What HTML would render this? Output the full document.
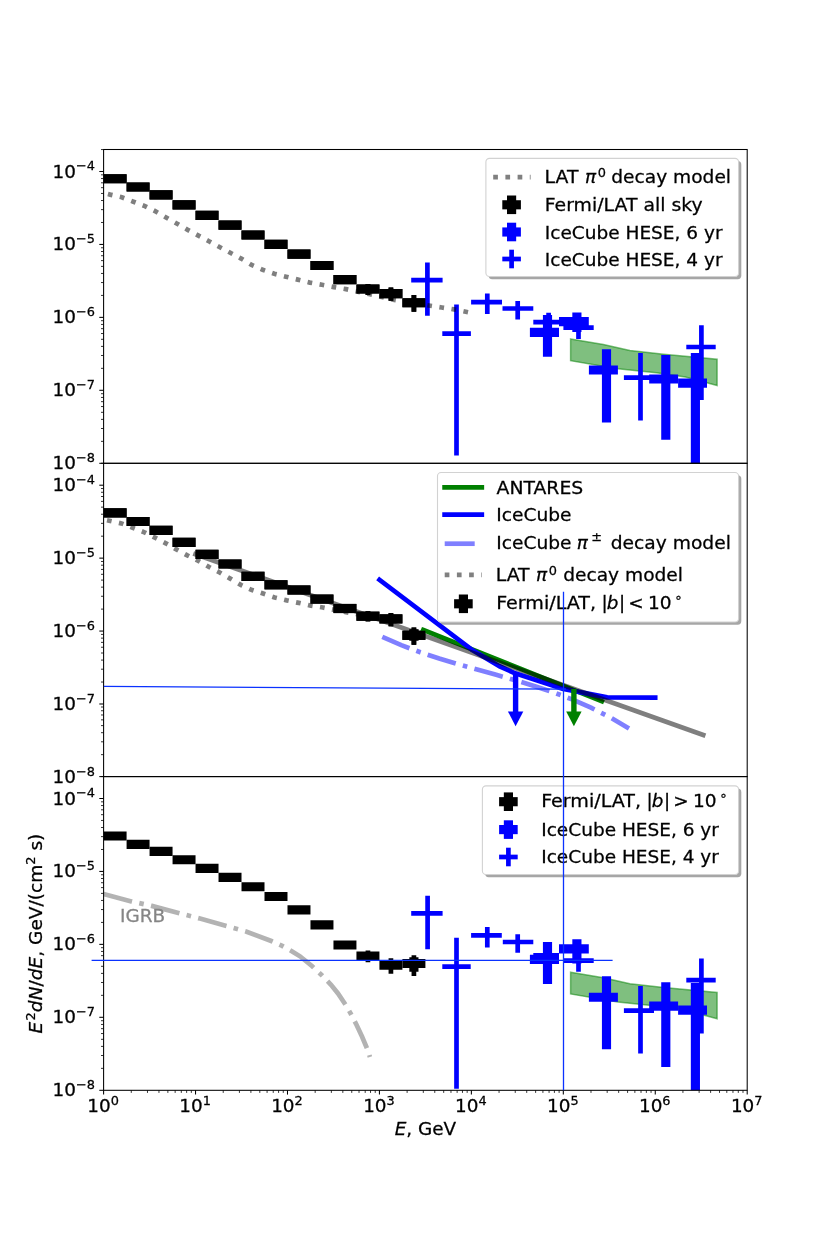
<!DOCTYPE html>
<html lang="en"><head><meta charset="utf-8"><title>Gamma-ray and neutrino spectra</title>
<style>html,body{margin:0;padding:0;background:#fff}svg{display:block}text{stroke:#000;stroke-width:.28px}text.g{stroke:#858585}</style></head>
<body>
<svg width="830" height="1246" viewBox="0 0 830 1246" font-family='"DejaVu Sans", "Liberation Sans", sans-serif' font-size="18.4" fill="#000">
<rect width="830" height="1246" fill="#fff"/>
<defs>
<clipPath id="cp0"><rect x="103.6" y="149.5" width="643.60" height="313.80"/></clipPath>
<clipPath id="cp1"><rect x="103.6" y="463.3" width="643.60" height="313.30"/></clipPath>
<clipPath id="cp2"><rect x="103.6" y="776.6" width="643.60" height="313.70"/></clipPath>
</defs>
<g clip-path="url(#cp0)">
<line x1="103.60" y1="178.70" x2="126.59" y2="178.70" stroke="#000" stroke-width="9.15" />
<line x1="126.59" y1="187.00" x2="149.57" y2="187.00" stroke="#000" stroke-width="9.15" />
<line x1="149.57" y1="194.80" x2="172.56" y2="194.80" stroke="#000" stroke-width="9.15" />
<line x1="172.56" y1="204.90" x2="195.54" y2="204.90" stroke="#000" stroke-width="9.15" />
<line x1="195.54" y1="215.30" x2="218.53" y2="215.30" stroke="#000" stroke-width="9.15" />
<line x1="218.53" y1="225.10" x2="241.51" y2="225.10" stroke="#000" stroke-width="9.15" />
<line x1="241.51" y1="235.00" x2="264.50" y2="235.00" stroke="#000" stroke-width="9.15" />
<line x1="264.50" y1="244.30" x2="287.49" y2="244.30" stroke="#000" stroke-width="9.15" />
<line x1="287.49" y1="254.10" x2="310.47" y2="254.10" stroke="#000" stroke-width="9.15" />
<line x1="310.47" y1="265.50" x2="333.46" y2="265.50" stroke="#000" stroke-width="9.15" />
<line x1="333.46" y1="279.60" x2="356.44" y2="279.60" stroke="#000" stroke-width="9.15" />
<line x1="356.44" y1="289.00" x2="379.43" y2="289.00" stroke="#000" stroke-width="9.15" />
<line x1="379.43" y1="293.60" x2="402.41" y2="293.60" stroke="#000" stroke-width="9.15" />
<line x1="402.41" y1="302.70" x2="425.40" y2="302.70" stroke="#000" stroke-width="9.15" />
<line x1="367.94" y1="284.00" x2="367.94" y2="295.00" stroke="#000" stroke-width="4.7" />
<line x1="390.92" y1="287.60" x2="390.92" y2="300.70" stroke="#000" stroke-width="4.7" />
<line x1="413.91" y1="295.10" x2="413.91" y2="311.70" stroke="#000" stroke-width="4.7" />
<polygon points="570.60,339.00 603.40,344.60 629.90,350.60 663.60,354.20 717.10,359.30 717.10,385.50 685.30,377.10 656.40,372.80 617.80,368.70 570.60,360.70" fill="#008000" fill-opacity="0.5" stroke="#008000" stroke-opacity="0.5" stroke-width="1.5"/>
<line x1="529.90" y1="332.40" x2="559.00" y2="332.40" stroke="#0000ff" stroke-width="9.15" />
<line x1="547.50" y1="314.90" x2="547.50" y2="356.70" stroke="#0000ff" stroke-width="9.15" />
<line x1="559.00" y1="321.60" x2="588.80" y2="321.60" stroke="#0000ff" stroke-width="9.15" />
<line x1="576.90" y1="312.40" x2="576.90" y2="332.00" stroke="#0000ff" stroke-width="9.15" />
<line x1="588.90" y1="370.00" x2="617.90" y2="370.00" stroke="#0000ff" stroke-width="9.15" />
<line x1="606.50" y1="349.20" x2="606.50" y2="422.40" stroke="#0000ff" stroke-width="9.15" />
<line x1="649.20" y1="379.00" x2="678.10" y2="379.00" stroke="#0000ff" stroke-width="9.15" />
<line x1="665.80" y1="354.90" x2="665.80" y2="439.80" stroke="#0000ff" stroke-width="9.15" />
<line x1="678.10" y1="383.10" x2="707.00" y2="383.10" stroke="#0000ff" stroke-width="9.15" />
<line x1="695.40" y1="353.00" x2="695.40" y2="470.00" stroke="#0000ff" stroke-width="9.15" />
<line x1="411.20" y1="280.20" x2="442.60" y2="280.20" stroke="#0000ff" stroke-width="4.7" />
<line x1="427.40" y1="262.40" x2="427.40" y2="315.70" stroke="#0000ff" stroke-width="4.7" />
<line x1="442.30" y1="333.70" x2="470.90" y2="333.70" stroke="#0000ff" stroke-width="4.7" />
<line x1="456.50" y1="304.60" x2="456.50" y2="455.50" stroke="#0000ff" stroke-width="4.7" />
<line x1="471.10" y1="302.10" x2="502.00" y2="302.10" stroke="#0000ff" stroke-width="4.7" />
<line x1="487.30" y1="293.50" x2="487.30" y2="313.90" stroke="#0000ff" stroke-width="4.7" />
<line x1="502.50" y1="308.50" x2="533.30" y2="308.50" stroke="#0000ff" stroke-width="4.7" />
<line x1="517.70" y1="300.90" x2="517.70" y2="319.60" stroke="#0000ff" stroke-width="4.7" />
<line x1="533.30" y1="322.20" x2="559.00" y2="322.20" stroke="#0000ff" stroke-width="4.7" />
<line x1="548.60" y1="312.80" x2="548.60" y2="334.00" stroke="#0000ff" stroke-width="4.7" />
<line x1="563.40" y1="327.70" x2="593.70" y2="327.70" stroke="#0000ff" stroke-width="4.7" />
<line x1="578.50" y1="318.00" x2="578.50" y2="338.90" stroke="#0000ff" stroke-width="4.7" />
<line x1="623.90" y1="377.60" x2="654.00" y2="377.60" stroke="#0000ff" stroke-width="4.7" />
<line x1="640.50" y1="353.00" x2="640.50" y2="420.50" stroke="#0000ff" stroke-width="4.7" />
<line x1="686.30" y1="347.00" x2="715.70" y2="347.00" stroke="#0000ff" stroke-width="4.7" />
<line x1="701.40" y1="325.30" x2="701.40" y2="400.00" stroke="#0000ff" stroke-width="4.7" />
<polyline points="107.90,194.00 110.20,194.60 121.80,197.30 133.40,201.70 144.90,206.10 155.50,211.30 166.10,217.50 176.70,223.50 187.30,229.60 198.00,235.40 208.90,241.20 219.50,247.00 230.30,252.80 241.20,258.60 251.60,265.00 262.70,269.80 274.30,273.80 285.90,276.70 297.80,279.60 309.80,282.60 321.90,284.80 333.90,287.10 346.00,289.10 370.00,294.30 394.40,300.00 428.70,305.50 441.80,307.50 454.10,309.40 468.50,312.30" fill="none" stroke="#000" stroke-width="4.7" stroke-opacity="0.5" stroke-dasharray="4.7 7.5"/>
<line x1="103.60" y1="178.70" x2="126.59" y2="178.70" stroke="#000" stroke-width="9.15" />
<line x1="126.59" y1="187.00" x2="149.57" y2="187.00" stroke="#000" stroke-width="9.15" />
<line x1="149.57" y1="194.80" x2="172.56" y2="194.80" stroke="#000" stroke-width="9.15" />
<line x1="172.56" y1="204.90" x2="195.54" y2="204.90" stroke="#000" stroke-width="9.15" />
<line x1="195.54" y1="215.30" x2="218.53" y2="215.30" stroke="#000" stroke-width="9.15" />
<line x1="218.53" y1="225.10" x2="241.51" y2="225.10" stroke="#000" stroke-width="9.15" />
<line x1="241.51" y1="235.00" x2="264.50" y2="235.00" stroke="#000" stroke-width="9.15" />
<line x1="264.50" y1="244.30" x2="287.49" y2="244.30" stroke="#000" stroke-width="9.15" />
<line x1="287.49" y1="254.10" x2="310.47" y2="254.10" stroke="#000" stroke-width="9.15" />
<line x1="310.47" y1="265.50" x2="333.46" y2="265.50" stroke="#000" stroke-width="9.15" />
<line x1="333.46" y1="279.60" x2="356.44" y2="279.60" stroke="#000" stroke-width="9.15" />
<line x1="356.44" y1="289.00" x2="379.43" y2="289.00" stroke="#000" stroke-width="9.15" />
<line x1="379.43" y1="293.60" x2="402.41" y2="293.60" stroke="#000" stroke-width="9.15" />
<line x1="402.41" y1="302.70" x2="425.40" y2="302.70" stroke="#000" stroke-width="9.15" />
<line x1="367.94" y1="284.00" x2="367.94" y2="295.00" stroke="#000" stroke-width="4.7" />
<line x1="390.92" y1="287.60" x2="390.92" y2="300.70" stroke="#000" stroke-width="4.7" />
<line x1="413.91" y1="295.10" x2="413.91" y2="311.70" stroke="#000" stroke-width="4.7" />
</g>
<g clip-path="url(#cp1)">
<polyline points="107.00,520.20 109.30,520.70 121.40,523.40 132.80,527.80 144.40,532.30 155.00,537.70 165.80,543.30 176.40,549.40 187.30,555.40 198.00,560.60 209.10,567.00 220.10,572.70 230.70,578.90 241.20,585.10 252.00,590.10 263.10,593.60 274.70,597.50 286.80,600.40 298.80,602.90 310.90,605.60 322.90,607.50 346.00,612.20 370.00,616.50 392.00,620.30" fill="none" stroke="#808080" stroke-width="4.7" stroke-dasharray="4.7 7.5"/>
<line x1="413.91" y1="629.40" x2="413.91" y2="640.50" stroke="#000" stroke-width="9.15" />
<line x1="103.60" y1="512.80" x2="126.59" y2="512.80" stroke="#000" stroke-width="9.15" />
<line x1="126.59" y1="521.50" x2="149.57" y2="521.50" stroke="#000" stroke-width="9.15" />
<line x1="149.57" y1="530.40" x2="172.56" y2="530.40" stroke="#000" stroke-width="9.15" />
<line x1="172.56" y1="542.40" x2="195.54" y2="542.40" stroke="#000" stroke-width="9.15" />
<line x1="195.54" y1="554.30" x2="218.53" y2="554.30" stroke="#000" stroke-width="9.15" />
<line x1="218.53" y1="564.00" x2="241.51" y2="564.00" stroke="#000" stroke-width="9.15" />
<line x1="241.51" y1="576.30" x2="264.50" y2="576.30" stroke="#000" stroke-width="9.15" />
<line x1="264.50" y1="584.80" x2="287.49" y2="584.80" stroke="#000" stroke-width="9.15" />
<line x1="287.49" y1="590.00" x2="310.47" y2="590.00" stroke="#000" stroke-width="9.15" />
<line x1="310.47" y1="599.10" x2="333.46" y2="599.10" stroke="#000" stroke-width="9.15" />
<line x1="333.46" y1="608.50" x2="356.44" y2="608.50" stroke="#000" stroke-width="9.15" />
<line x1="356.44" y1="616.20" x2="379.43" y2="616.20" stroke="#000" stroke-width="9.15" />
<line x1="379.43" y1="618.90" x2="402.41" y2="618.90" stroke="#000" stroke-width="9.15" />
<line x1="402.41" y1="635.30" x2="425.40" y2="635.30" stroke="#000" stroke-width="9.15" />
<line x1="367.94" y1="611.20" x2="367.94" y2="621.40" stroke="#000" stroke-width="4.7" />
<line x1="390.92" y1="613.00" x2="390.92" y2="626.30" stroke="#000" stroke-width="4.7" />
<line x1="413.91" y1="627.50" x2="413.91" y2="644.80" stroke="#000" stroke-width="4.7" />
<polyline points="423.30,630.00 601.80,701.20" fill="none" stroke="#008000" stroke-width="4.7" stroke-linecap="square" stroke-linejoin="round"/>
<polyline points="379.50,579.80 471.40,649.40 499.00,666.00 515.20,673.30 563.30,688.90 607.20,697.40 655.20,697.60" fill="none" stroke="#0000ff" stroke-width="4.7" stroke-linecap="square" stroke-linejoin="round"/>
<polyline points="195.50,554.20 703.20,735.00" fill="none" stroke="#000" stroke-width="4.7" stroke-opacity="0.5" stroke-linecap="square"/>
<line x1="413.91" y1="629.40" x2="413.91" y2="640.50" stroke="#000" stroke-width="9.15" />
<line x1="103.60" y1="512.80" x2="126.59" y2="512.80" stroke="#000" stroke-width="9.15" />
<line x1="126.59" y1="521.50" x2="149.57" y2="521.50" stroke="#000" stroke-width="9.15" />
<line x1="149.57" y1="530.40" x2="172.56" y2="530.40" stroke="#000" stroke-width="9.15" />
<line x1="172.56" y1="542.40" x2="195.54" y2="542.40" stroke="#000" stroke-width="9.15" />
<line x1="195.54" y1="554.30" x2="218.53" y2="554.30" stroke="#000" stroke-width="9.15" />
<line x1="218.53" y1="564.00" x2="241.51" y2="564.00" stroke="#000" stroke-width="9.15" />
<line x1="241.51" y1="576.30" x2="264.50" y2="576.30" stroke="#000" stroke-width="9.15" />
<line x1="264.50" y1="584.80" x2="287.49" y2="584.80" stroke="#000" stroke-width="9.15" />
<line x1="287.49" y1="590.00" x2="310.47" y2="590.00" stroke="#000" stroke-width="9.15" />
<line x1="310.47" y1="599.10" x2="333.46" y2="599.10" stroke="#000" stroke-width="9.15" />
<line x1="333.46" y1="608.50" x2="356.44" y2="608.50" stroke="#000" stroke-width="9.15" />
<line x1="356.44" y1="616.20" x2="379.43" y2="616.20" stroke="#000" stroke-width="9.15" />
<line x1="379.43" y1="618.90" x2="402.41" y2="618.90" stroke="#000" stroke-width="9.15" />
<line x1="402.41" y1="635.30" x2="425.40" y2="635.30" stroke="#000" stroke-width="9.15" />
<line x1="367.94" y1="611.20" x2="367.94" y2="621.40" stroke="#000" stroke-width="4.7" />
<line x1="390.92" y1="613.00" x2="390.92" y2="626.30" stroke="#000" stroke-width="4.7" />
<line x1="413.91" y1="627.50" x2="413.91" y2="644.80" stroke="#000" stroke-width="4.7" />
<polyline points="382.30,636.90 401.30,645.10 420.30,652.30 439.20,658.60 458.20,664.30 477.20,669.60 496.20,674.80 515.10,680.20 534.10,685.90 553.10,692.20 572.10,699.40 591.00,707.70 610.00,717.30 629.00,728.60" fill="none" stroke="#0000ff" stroke-width="4.7" stroke-opacity="0.5" stroke-dasharray="29.4 7.4 4.6 7.4"/>
<line x1="515.60" y1="672.80" x2="515.60" y2="712.00" stroke="#0000ff" stroke-width="5.4" />
<polygon points="507.90,711.4 523.30,711.4 515.60,726.3" fill="#0000ff"/>
<line x1="573.90" y1="689.00" x2="573.90" y2="712.00" stroke="#008000" stroke-width="5.4" />
<polygon points="566.20,711.4 581.60,711.4 573.90,726.3" fill="#008000"/>
</g>
<g clip-path="url(#cp2)">
<polyline points="103.60,894.10 131.40,901.40 151.70,905.90 200.00,918.60 246.00,931.60 271.30,941.00 282.20,945.90 291.80,951.20 300.00,956.30 312.20,966.20 321.80,975.20 331.00,984.80 338.00,993.50 345.50,1004.60 350.70,1013.60 356.60,1025.00 362.00,1036.50 366.00,1046.00 368.30,1051.60 369.90,1057.00" fill="none" stroke="#808080" stroke-width="4.7" stroke-opacity="0.6" stroke-dasharray="29.4 7.4 4.6 7.4"/>
<line x1="413.91" y1="957.30" x2="413.91" y2="971.80" stroke="#000" stroke-width="9.15" />
<line x1="103.60" y1="836.00" x2="126.59" y2="836.00" stroke="#000" stroke-width="9.15" />
<line x1="126.59" y1="844.40" x2="149.57" y2="844.40" stroke="#000" stroke-width="9.15" />
<line x1="149.57" y1="851.30" x2="172.56" y2="851.30" stroke="#000" stroke-width="9.15" />
<line x1="172.56" y1="859.70" x2="195.54" y2="859.70" stroke="#000" stroke-width="9.15" />
<line x1="195.54" y1="868.40" x2="218.53" y2="868.40" stroke="#000" stroke-width="9.15" />
<line x1="218.53" y1="877.40" x2="241.51" y2="877.40" stroke="#000" stroke-width="9.15" />
<line x1="241.51" y1="886.70" x2="264.50" y2="886.70" stroke="#000" stroke-width="9.15" />
<line x1="264.50" y1="896.50" x2="287.49" y2="896.50" stroke="#000" stroke-width="9.15" />
<line x1="287.49" y1="909.90" x2="310.47" y2="909.90" stroke="#000" stroke-width="9.15" />
<line x1="310.47" y1="924.80" x2="333.46" y2="924.80" stroke="#000" stroke-width="9.15" />
<line x1="333.46" y1="945.00" x2="356.44" y2="945.00" stroke="#000" stroke-width="9.15" />
<line x1="356.44" y1="956.00" x2="379.43" y2="956.00" stroke="#000" stroke-width="9.15" />
<line x1="379.43" y1="965.20" x2="402.41" y2="965.20" stroke="#000" stroke-width="9.15" />
<line x1="402.41" y1="963.50" x2="425.40" y2="963.50" stroke="#000" stroke-width="9.15" />
<line x1="367.94" y1="950.60" x2="367.94" y2="962.20" stroke="#000" stroke-width="4.7" />
<line x1="390.92" y1="958.30" x2="390.92" y2="973.70" stroke="#000" stroke-width="4.7" />
<line x1="413.91" y1="955.30" x2="413.91" y2="976.00" stroke="#000" stroke-width="4.7" />
<polygon points="570.60,972.20 603.40,977.80 629.90,983.80 663.60,987.40 717.10,992.50 717.10,1018.70 685.30,1010.30 656.40,1006.00 617.80,1001.90 570.60,993.90" fill="#008000" fill-opacity="0.5" stroke="#008000" stroke-opacity="0.5" stroke-width="1.5"/>
<line x1="529.90" y1="959.30" x2="559.00" y2="959.30" stroke="#0000ff" stroke-width="9.15" />
<line x1="547.50" y1="942.00" x2="547.50" y2="984.00" stroke="#0000ff" stroke-width="9.15" />
<line x1="559.00" y1="948.90" x2="588.80" y2="948.90" stroke="#0000ff" stroke-width="9.15" />
<line x1="576.90" y1="939.20" x2="576.90" y2="963.40" stroke="#0000ff" stroke-width="9.15" />
<line x1="588.90" y1="997.20" x2="617.90" y2="997.20" stroke="#0000ff" stroke-width="9.15" />
<line x1="606.50" y1="976.30" x2="606.50" y2="1049.30" stroke="#0000ff" stroke-width="9.15" />
<line x1="649.20" y1="1006.10" x2="678.10" y2="1006.10" stroke="#0000ff" stroke-width="9.15" />
<line x1="665.80" y1="982.30" x2="665.80" y2="1066.90" stroke="#0000ff" stroke-width="9.15" />
<line x1="678.10" y1="1010.10" x2="707.00" y2="1010.10" stroke="#0000ff" stroke-width="9.15" />
<line x1="695.40" y1="983.00" x2="695.40" y2="1095.00" stroke="#0000ff" stroke-width="9.15" />
<line x1="411.20" y1="913.30" x2="442.60" y2="913.30" stroke="#0000ff" stroke-width="4.7" />
<line x1="427.60" y1="895.70" x2="427.60" y2="949.20" stroke="#0000ff" stroke-width="4.7" />
<line x1="442.30" y1="966.70" x2="470.70" y2="966.70" stroke="#0000ff" stroke-width="4.7" />
<line x1="456.50" y1="937.80" x2="456.50" y2="1088.80" stroke="#0000ff" stroke-width="4.7" />
<line x1="471.10" y1="935.40" x2="501.80" y2="935.40" stroke="#0000ff" stroke-width="4.7" />
<line x1="487.30" y1="927.00" x2="487.30" y2="947.50" stroke="#0000ff" stroke-width="4.7" />
<line x1="502.80" y1="942.00" x2="533.30" y2="942.00" stroke="#0000ff" stroke-width="4.7" />
<line x1="517.70" y1="934.20" x2="517.70" y2="952.80" stroke="#0000ff" stroke-width="4.7" />
<line x1="533.30" y1="955.30" x2="559.00" y2="955.30" stroke="#0000ff" stroke-width="4.7" />
<line x1="548.60" y1="944.00" x2="548.60" y2="966.00" stroke="#0000ff" stroke-width="4.7" />
<line x1="563.40" y1="960.70" x2="593.70" y2="960.70" stroke="#0000ff" stroke-width="4.7" />
<line x1="578.50" y1="950.00" x2="578.50" y2="971.80" stroke="#0000ff" stroke-width="4.7" />
<line x1="623.90" y1="1010.70" x2="654.00" y2="1010.70" stroke="#0000ff" stroke-width="4.7" />
<line x1="640.50" y1="985.90" x2="640.50" y2="1053.60" stroke="#0000ff" stroke-width="4.7" />
<line x1="686.30" y1="980.10" x2="715.70" y2="980.10" stroke="#0000ff" stroke-width="4.7" />
<line x1="701.40" y1="958.40" x2="701.40" y2="1033.60" stroke="#0000ff" stroke-width="4.7" />
<text class="g" x="120.1" y="921.8" fill="#858585">IGRB</text>
</g>
<line x1="99.30" y1="463.30" x2="103.60" y2="463.30" stroke="#000" stroke-width="1.05" />
<text x="94.90" y="469.30" text-anchor="end">10<tspan font-size="12.88" dy="-7.08">−8</tspan></text>
<line x1="101.00" y1="441.35" x2="103.60" y2="441.35" stroke="#000" stroke-width="0.8" />
<line x1="101.00" y1="428.50" x2="103.60" y2="428.50" stroke="#000" stroke-width="0.8" />
<line x1="101.00" y1="419.39" x2="103.60" y2="419.39" stroke="#000" stroke-width="0.8" />
<line x1="101.00" y1="412.32" x2="103.60" y2="412.32" stroke="#000" stroke-width="0.8" />
<line x1="101.00" y1="406.55" x2="103.60" y2="406.55" stroke="#000" stroke-width="0.8" />
<line x1="101.00" y1="401.67" x2="103.60" y2="401.67" stroke="#000" stroke-width="0.8" />
<line x1="101.00" y1="397.44" x2="103.60" y2="397.44" stroke="#000" stroke-width="0.8" />
<line x1="101.00" y1="393.71" x2="103.60" y2="393.71" stroke="#000" stroke-width="0.8" />
<line x1="99.30" y1="390.29" x2="103.60" y2="390.29" stroke="#000" stroke-width="1.05" />
<text x="94.90" y="396.29" text-anchor="end">10<tspan font-size="12.88" dy="-7.08">−7</tspan></text>
<line x1="101.00" y1="368.34" x2="103.60" y2="368.34" stroke="#000" stroke-width="0.8" />
<line x1="101.00" y1="355.49" x2="103.60" y2="355.49" stroke="#000" stroke-width="0.8" />
<line x1="101.00" y1="346.38" x2="103.60" y2="346.38" stroke="#000" stroke-width="0.8" />
<line x1="101.00" y1="339.31" x2="103.60" y2="339.31" stroke="#000" stroke-width="0.8" />
<line x1="101.00" y1="333.54" x2="103.60" y2="333.54" stroke="#000" stroke-width="0.8" />
<line x1="101.00" y1="328.66" x2="103.60" y2="328.66" stroke="#000" stroke-width="0.8" />
<line x1="101.00" y1="324.43" x2="103.60" y2="324.43" stroke="#000" stroke-width="0.8" />
<line x1="101.00" y1="320.70" x2="103.60" y2="320.70" stroke="#000" stroke-width="0.8" />
<line x1="99.30" y1="317.36" x2="103.60" y2="317.36" stroke="#000" stroke-width="1.05" />
<text x="94.90" y="323.36" text-anchor="end">10<tspan font-size="12.88" dy="-7.08">−6</tspan></text>
<line x1="101.00" y1="295.41" x2="103.60" y2="295.41" stroke="#000" stroke-width="0.8" />
<line x1="101.00" y1="282.56" x2="103.60" y2="282.56" stroke="#000" stroke-width="0.8" />
<line x1="101.00" y1="273.45" x2="103.60" y2="273.45" stroke="#000" stroke-width="0.8" />
<line x1="101.00" y1="266.38" x2="103.60" y2="266.38" stroke="#000" stroke-width="0.8" />
<line x1="101.00" y1="260.61" x2="103.60" y2="260.61" stroke="#000" stroke-width="0.8" />
<line x1="101.00" y1="255.73" x2="103.60" y2="255.73" stroke="#000" stroke-width="0.8" />
<line x1="101.00" y1="251.50" x2="103.60" y2="251.50" stroke="#000" stroke-width="0.8" />
<line x1="101.00" y1="247.77" x2="103.60" y2="247.77" stroke="#000" stroke-width="0.8" />
<line x1="99.30" y1="244.43" x2="103.60" y2="244.43" stroke="#000" stroke-width="1.05" />
<text x="94.90" y="250.43" text-anchor="end">10<tspan font-size="12.88" dy="-7.08">−5</tspan></text>
<line x1="101.00" y1="222.48" x2="103.60" y2="222.48" stroke="#000" stroke-width="0.8" />
<line x1="101.00" y1="209.63" x2="103.60" y2="209.63" stroke="#000" stroke-width="0.8" />
<line x1="101.00" y1="200.52" x2="103.60" y2="200.52" stroke="#000" stroke-width="0.8" />
<line x1="101.00" y1="193.45" x2="103.60" y2="193.45" stroke="#000" stroke-width="0.8" />
<line x1="101.00" y1="187.68" x2="103.60" y2="187.68" stroke="#000" stroke-width="0.8" />
<line x1="101.00" y1="182.80" x2="103.60" y2="182.80" stroke="#000" stroke-width="0.8" />
<line x1="101.00" y1="178.57" x2="103.60" y2="178.57" stroke="#000" stroke-width="0.8" />
<line x1="101.00" y1="174.84" x2="103.60" y2="174.84" stroke="#000" stroke-width="0.8" />
<line x1="99.30" y1="171.50" x2="103.60" y2="171.50" stroke="#000" stroke-width="1.05" />
<text x="94.90" y="177.50" text-anchor="end">10<tspan font-size="12.88" dy="-7.08">−4</tspan></text>
<line x1="101.00" y1="149.55" x2="103.60" y2="149.55" stroke="#000" stroke-width="0.8" />
<line x1="99.30" y1="776.60" x2="103.60" y2="776.60" stroke="#000" stroke-width="1.05" />
<text x="94.90" y="782.60" text-anchor="end">10<tspan font-size="12.88" dy="-7.08">−8</tspan></text>
<line x1="101.00" y1="754.65" x2="103.60" y2="754.65" stroke="#000" stroke-width="0.8" />
<line x1="101.00" y1="741.80" x2="103.60" y2="741.80" stroke="#000" stroke-width="0.8" />
<line x1="101.00" y1="732.69" x2="103.60" y2="732.69" stroke="#000" stroke-width="0.8" />
<line x1="101.00" y1="725.62" x2="103.60" y2="725.62" stroke="#000" stroke-width="0.8" />
<line x1="101.00" y1="719.85" x2="103.60" y2="719.85" stroke="#000" stroke-width="0.8" />
<line x1="101.00" y1="714.97" x2="103.60" y2="714.97" stroke="#000" stroke-width="0.8" />
<line x1="101.00" y1="710.74" x2="103.60" y2="710.74" stroke="#000" stroke-width="0.8" />
<line x1="101.00" y1="707.01" x2="103.60" y2="707.01" stroke="#000" stroke-width="0.8" />
<line x1="99.30" y1="703.99" x2="103.60" y2="703.99" stroke="#000" stroke-width="1.05" />
<text x="94.90" y="709.99" text-anchor="end">10<tspan font-size="12.88" dy="-7.08">−7</tspan></text>
<line x1="101.00" y1="682.04" x2="103.60" y2="682.04" stroke="#000" stroke-width="0.8" />
<line x1="101.00" y1="669.19" x2="103.60" y2="669.19" stroke="#000" stroke-width="0.8" />
<line x1="101.00" y1="660.08" x2="103.60" y2="660.08" stroke="#000" stroke-width="0.8" />
<line x1="101.00" y1="653.01" x2="103.60" y2="653.01" stroke="#000" stroke-width="0.8" />
<line x1="101.00" y1="647.24" x2="103.60" y2="647.24" stroke="#000" stroke-width="0.8" />
<line x1="101.00" y1="642.36" x2="103.60" y2="642.36" stroke="#000" stroke-width="0.8" />
<line x1="101.00" y1="638.13" x2="103.60" y2="638.13" stroke="#000" stroke-width="0.8" />
<line x1="101.00" y1="634.40" x2="103.60" y2="634.40" stroke="#000" stroke-width="0.8" />
<line x1="99.30" y1="631.06" x2="103.60" y2="631.06" stroke="#000" stroke-width="1.05" />
<text x="94.90" y="637.06" text-anchor="end">10<tspan font-size="12.88" dy="-7.08">−6</tspan></text>
<line x1="101.00" y1="609.11" x2="103.60" y2="609.11" stroke="#000" stroke-width="0.8" />
<line x1="101.00" y1="596.26" x2="103.60" y2="596.26" stroke="#000" stroke-width="0.8" />
<line x1="101.00" y1="587.15" x2="103.60" y2="587.15" stroke="#000" stroke-width="0.8" />
<line x1="101.00" y1="580.08" x2="103.60" y2="580.08" stroke="#000" stroke-width="0.8" />
<line x1="101.00" y1="574.31" x2="103.60" y2="574.31" stroke="#000" stroke-width="0.8" />
<line x1="101.00" y1="569.43" x2="103.60" y2="569.43" stroke="#000" stroke-width="0.8" />
<line x1="101.00" y1="565.20" x2="103.60" y2="565.20" stroke="#000" stroke-width="0.8" />
<line x1="101.00" y1="561.47" x2="103.60" y2="561.47" stroke="#000" stroke-width="0.8" />
<line x1="99.30" y1="558.13" x2="103.60" y2="558.13" stroke="#000" stroke-width="1.05" />
<text x="94.90" y="564.13" text-anchor="end">10<tspan font-size="12.88" dy="-7.08">−5</tspan></text>
<line x1="101.00" y1="536.18" x2="103.60" y2="536.18" stroke="#000" stroke-width="0.8" />
<line x1="101.00" y1="523.33" x2="103.60" y2="523.33" stroke="#000" stroke-width="0.8" />
<line x1="101.00" y1="514.22" x2="103.60" y2="514.22" stroke="#000" stroke-width="0.8" />
<line x1="101.00" y1="507.15" x2="103.60" y2="507.15" stroke="#000" stroke-width="0.8" />
<line x1="101.00" y1="501.38" x2="103.60" y2="501.38" stroke="#000" stroke-width="0.8" />
<line x1="101.00" y1="496.50" x2="103.60" y2="496.50" stroke="#000" stroke-width="0.8" />
<line x1="101.00" y1="492.27" x2="103.60" y2="492.27" stroke="#000" stroke-width="0.8" />
<line x1="101.00" y1="488.54" x2="103.60" y2="488.54" stroke="#000" stroke-width="0.8" />
<line x1="99.30" y1="485.20" x2="103.60" y2="485.20" stroke="#000" stroke-width="1.05" />
<text x="94.90" y="491.20" text-anchor="end">10<tspan font-size="12.88" dy="-7.08">−4</tspan></text>
<line x1="101.00" y1="463.25" x2="103.60" y2="463.25" stroke="#000" stroke-width="0.8" />
<line x1="99.30" y1="1090.30" x2="103.60" y2="1090.30" stroke="#000" stroke-width="1.05" />
<text x="94.90" y="1096.30" text-anchor="end">10<tspan font-size="12.88" dy="-7.08">−8</tspan></text>
<line x1="101.00" y1="1068.35" x2="103.60" y2="1068.35" stroke="#000" stroke-width="0.8" />
<line x1="101.00" y1="1055.50" x2="103.60" y2="1055.50" stroke="#000" stroke-width="0.8" />
<line x1="101.00" y1="1046.39" x2="103.60" y2="1046.39" stroke="#000" stroke-width="0.8" />
<line x1="101.00" y1="1039.32" x2="103.60" y2="1039.32" stroke="#000" stroke-width="0.8" />
<line x1="101.00" y1="1033.55" x2="103.60" y2="1033.55" stroke="#000" stroke-width="0.8" />
<line x1="101.00" y1="1028.67" x2="103.60" y2="1028.67" stroke="#000" stroke-width="0.8" />
<line x1="101.00" y1="1024.44" x2="103.60" y2="1024.44" stroke="#000" stroke-width="0.8" />
<line x1="101.00" y1="1020.71" x2="103.60" y2="1020.71" stroke="#000" stroke-width="0.8" />
<line x1="99.30" y1="1017.29" x2="103.60" y2="1017.29" stroke="#000" stroke-width="1.05" />
<text x="94.90" y="1023.29" text-anchor="end">10<tspan font-size="12.88" dy="-7.08">−7</tspan></text>
<line x1="101.00" y1="995.34" x2="103.60" y2="995.34" stroke="#000" stroke-width="0.8" />
<line x1="101.00" y1="982.49" x2="103.60" y2="982.49" stroke="#000" stroke-width="0.8" />
<line x1="101.00" y1="973.38" x2="103.60" y2="973.38" stroke="#000" stroke-width="0.8" />
<line x1="101.00" y1="966.31" x2="103.60" y2="966.31" stroke="#000" stroke-width="0.8" />
<line x1="101.00" y1="960.54" x2="103.60" y2="960.54" stroke="#000" stroke-width="0.8" />
<line x1="101.00" y1="955.66" x2="103.60" y2="955.66" stroke="#000" stroke-width="0.8" />
<line x1="101.00" y1="951.43" x2="103.60" y2="951.43" stroke="#000" stroke-width="0.8" />
<line x1="101.00" y1="947.70" x2="103.60" y2="947.70" stroke="#000" stroke-width="0.8" />
<line x1="99.30" y1="944.36" x2="103.60" y2="944.36" stroke="#000" stroke-width="1.05" />
<text x="94.90" y="950.36" text-anchor="end">10<tspan font-size="12.88" dy="-7.08">−6</tspan></text>
<line x1="101.00" y1="922.41" x2="103.60" y2="922.41" stroke="#000" stroke-width="0.8" />
<line x1="101.00" y1="909.56" x2="103.60" y2="909.56" stroke="#000" stroke-width="0.8" />
<line x1="101.00" y1="900.45" x2="103.60" y2="900.45" stroke="#000" stroke-width="0.8" />
<line x1="101.00" y1="893.38" x2="103.60" y2="893.38" stroke="#000" stroke-width="0.8" />
<line x1="101.00" y1="887.61" x2="103.60" y2="887.61" stroke="#000" stroke-width="0.8" />
<line x1="101.00" y1="882.73" x2="103.60" y2="882.73" stroke="#000" stroke-width="0.8" />
<line x1="101.00" y1="878.50" x2="103.60" y2="878.50" stroke="#000" stroke-width="0.8" />
<line x1="101.00" y1="874.77" x2="103.60" y2="874.77" stroke="#000" stroke-width="0.8" />
<line x1="99.30" y1="871.43" x2="103.60" y2="871.43" stroke="#000" stroke-width="1.05" />
<text x="94.90" y="877.43" text-anchor="end">10<tspan font-size="12.88" dy="-7.08">−5</tspan></text>
<line x1="101.00" y1="849.48" x2="103.60" y2="849.48" stroke="#000" stroke-width="0.8" />
<line x1="101.00" y1="836.63" x2="103.60" y2="836.63" stroke="#000" stroke-width="0.8" />
<line x1="101.00" y1="827.52" x2="103.60" y2="827.52" stroke="#000" stroke-width="0.8" />
<line x1="101.00" y1="820.45" x2="103.60" y2="820.45" stroke="#000" stroke-width="0.8" />
<line x1="101.00" y1="814.68" x2="103.60" y2="814.68" stroke="#000" stroke-width="0.8" />
<line x1="101.00" y1="809.80" x2="103.60" y2="809.80" stroke="#000" stroke-width="0.8" />
<line x1="101.00" y1="805.57" x2="103.60" y2="805.57" stroke="#000" stroke-width="0.8" />
<line x1="101.00" y1="801.84" x2="103.60" y2="801.84" stroke="#000" stroke-width="0.8" />
<line x1="99.30" y1="798.50" x2="103.60" y2="798.50" stroke="#000" stroke-width="1.05" />
<text x="94.90" y="804.50" text-anchor="end">10<tspan font-size="12.88" dy="-7.08">−4</tspan></text>
<line x1="101.00" y1="776.55" x2="103.60" y2="776.55" stroke="#000" stroke-width="0.8" />
<line x1="103.60" y1="1090.30" x2="103.60" y2="1094.60" stroke="#000" stroke-width="1.05" />
<text x="103.10" y="1112.40" text-anchor="middle">10<tspan font-size="12.88" dy="-7.08">0</tspan></text>
<line x1="131.28" y1="1090.30" x2="131.28" y2="1092.90" stroke="#000" stroke-width="0.8" />
<line x1="147.47" y1="1090.30" x2="147.47" y2="1092.90" stroke="#000" stroke-width="0.8" />
<line x1="158.96" y1="1090.30" x2="158.96" y2="1092.90" stroke="#000" stroke-width="0.8" />
<line x1="167.87" y1="1090.30" x2="167.87" y2="1092.90" stroke="#000" stroke-width="0.8" />
<line x1="175.15" y1="1090.30" x2="175.15" y2="1092.90" stroke="#000" stroke-width="0.8" />
<line x1="181.30" y1="1090.30" x2="181.30" y2="1092.90" stroke="#000" stroke-width="0.8" />
<line x1="186.63" y1="1090.30" x2="186.63" y2="1092.90" stroke="#000" stroke-width="0.8" />
<line x1="191.34" y1="1090.30" x2="191.34" y2="1092.90" stroke="#000" stroke-width="0.8" />
<line x1="195.54" y1="1090.30" x2="195.54" y2="1094.60" stroke="#000" stroke-width="1.05" />
<text x="195.04" y="1112.40" text-anchor="middle">10<tspan font-size="12.88" dy="-7.08">1</tspan></text>
<line x1="223.22" y1="1090.30" x2="223.22" y2="1092.90" stroke="#000" stroke-width="0.8" />
<line x1="239.41" y1="1090.30" x2="239.41" y2="1092.90" stroke="#000" stroke-width="0.8" />
<line x1="250.90" y1="1090.30" x2="250.90" y2="1092.90" stroke="#000" stroke-width="0.8" />
<line x1="259.81" y1="1090.30" x2="259.81" y2="1092.90" stroke="#000" stroke-width="0.8" />
<line x1="267.09" y1="1090.30" x2="267.09" y2="1092.90" stroke="#000" stroke-width="0.8" />
<line x1="273.24" y1="1090.30" x2="273.24" y2="1092.90" stroke="#000" stroke-width="0.8" />
<line x1="278.58" y1="1090.30" x2="278.58" y2="1092.90" stroke="#000" stroke-width="0.8" />
<line x1="283.28" y1="1090.30" x2="283.28" y2="1092.90" stroke="#000" stroke-width="0.8" />
<line x1="287.49" y1="1090.30" x2="287.49" y2="1094.60" stroke="#000" stroke-width="1.05" />
<text x="286.99" y="1112.40" text-anchor="middle">10<tspan font-size="12.88" dy="-7.08">2</tspan></text>
<line x1="315.16" y1="1090.30" x2="315.16" y2="1092.90" stroke="#000" stroke-width="0.8" />
<line x1="331.35" y1="1090.30" x2="331.35" y2="1092.90" stroke="#000" stroke-width="0.8" />
<line x1="342.84" y1="1090.30" x2="342.84" y2="1092.90" stroke="#000" stroke-width="0.8" />
<line x1="351.75" y1="1090.30" x2="351.75" y2="1092.90" stroke="#000" stroke-width="0.8" />
<line x1="359.03" y1="1090.30" x2="359.03" y2="1092.90" stroke="#000" stroke-width="0.8" />
<line x1="365.19" y1="1090.30" x2="365.19" y2="1092.90" stroke="#000" stroke-width="0.8" />
<line x1="370.52" y1="1090.30" x2="370.52" y2="1092.90" stroke="#000" stroke-width="0.8" />
<line x1="375.22" y1="1090.30" x2="375.22" y2="1092.90" stroke="#000" stroke-width="0.8" />
<line x1="379.43" y1="1090.30" x2="379.43" y2="1094.60" stroke="#000" stroke-width="1.05" />
<text x="378.93" y="1112.40" text-anchor="middle">10<tspan font-size="12.88" dy="-7.08">3</tspan></text>
<line x1="407.11" y1="1090.30" x2="407.11" y2="1092.90" stroke="#000" stroke-width="0.8" />
<line x1="423.30" y1="1090.30" x2="423.30" y2="1092.90" stroke="#000" stroke-width="0.8" />
<line x1="434.78" y1="1090.30" x2="434.78" y2="1092.90" stroke="#000" stroke-width="0.8" />
<line x1="443.69" y1="1090.30" x2="443.69" y2="1092.90" stroke="#000" stroke-width="0.8" />
<line x1="450.97" y1="1090.30" x2="450.97" y2="1092.90" stroke="#000" stroke-width="0.8" />
<line x1="457.13" y1="1090.30" x2="457.13" y2="1092.90" stroke="#000" stroke-width="0.8" />
<line x1="462.46" y1="1090.30" x2="462.46" y2="1092.90" stroke="#000" stroke-width="0.8" />
<line x1="467.16" y1="1090.30" x2="467.16" y2="1092.90" stroke="#000" stroke-width="0.8" />
<line x1="471.37" y1="1090.30" x2="471.37" y2="1094.60" stroke="#000" stroke-width="1.05" />
<text x="470.87" y="1112.40" text-anchor="middle">10<tspan font-size="12.88" dy="-7.08">4</tspan></text>
<line x1="499.05" y1="1090.30" x2="499.05" y2="1092.90" stroke="#000" stroke-width="0.8" />
<line x1="515.24" y1="1090.30" x2="515.24" y2="1092.90" stroke="#000" stroke-width="0.8" />
<line x1="526.73" y1="1090.30" x2="526.73" y2="1092.90" stroke="#000" stroke-width="0.8" />
<line x1="535.64" y1="1090.30" x2="535.64" y2="1092.90" stroke="#000" stroke-width="0.8" />
<line x1="542.92" y1="1090.30" x2="542.92" y2="1092.90" stroke="#000" stroke-width="0.8" />
<line x1="549.07" y1="1090.30" x2="549.07" y2="1092.90" stroke="#000" stroke-width="0.8" />
<line x1="554.40" y1="1090.30" x2="554.40" y2="1092.90" stroke="#000" stroke-width="0.8" />
<line x1="559.11" y1="1090.30" x2="559.11" y2="1092.90" stroke="#000" stroke-width="0.8" />
<line x1="563.31" y1="1090.30" x2="563.31" y2="1094.60" stroke="#000" stroke-width="1.05" />
<text x="562.81" y="1112.40" text-anchor="middle">10<tspan font-size="12.88" dy="-7.08">5</tspan></text>
<line x1="590.99" y1="1090.30" x2="590.99" y2="1092.90" stroke="#000" stroke-width="0.8" />
<line x1="607.18" y1="1090.30" x2="607.18" y2="1092.90" stroke="#000" stroke-width="0.8" />
<line x1="618.67" y1="1090.30" x2="618.67" y2="1092.90" stroke="#000" stroke-width="0.8" />
<line x1="627.58" y1="1090.30" x2="627.58" y2="1092.90" stroke="#000" stroke-width="0.8" />
<line x1="634.86" y1="1090.30" x2="634.86" y2="1092.90" stroke="#000" stroke-width="0.8" />
<line x1="641.02" y1="1090.30" x2="641.02" y2="1092.90" stroke="#000" stroke-width="0.8" />
<line x1="646.35" y1="1090.30" x2="646.35" y2="1092.90" stroke="#000" stroke-width="0.8" />
<line x1="651.05" y1="1090.30" x2="651.05" y2="1092.90" stroke="#000" stroke-width="0.8" />
<line x1="655.26" y1="1090.30" x2="655.26" y2="1094.60" stroke="#000" stroke-width="1.05" />
<text x="654.76" y="1112.40" text-anchor="middle">10<tspan font-size="12.88" dy="-7.08">6</tspan></text>
<line x1="682.93" y1="1090.30" x2="682.93" y2="1092.90" stroke="#000" stroke-width="0.8" />
<line x1="699.13" y1="1090.30" x2="699.13" y2="1092.90" stroke="#000" stroke-width="0.8" />
<line x1="710.61" y1="1090.30" x2="710.61" y2="1092.90" stroke="#000" stroke-width="0.8" />
<line x1="719.52" y1="1090.30" x2="719.52" y2="1092.90" stroke="#000" stroke-width="0.8" />
<line x1="726.80" y1="1090.30" x2="726.80" y2="1092.90" stroke="#000" stroke-width="0.8" />
<line x1="732.96" y1="1090.30" x2="732.96" y2="1092.90" stroke="#000" stroke-width="0.8" />
<line x1="738.29" y1="1090.30" x2="738.29" y2="1092.90" stroke="#000" stroke-width="0.8" />
<line x1="742.99" y1="1090.30" x2="742.99" y2="1092.90" stroke="#000" stroke-width="0.8" />
<line x1="747.20" y1="1090.30" x2="747.20" y2="1094.60" stroke="#000" stroke-width="1.05" />
<text x="746.70" y="1112.40" text-anchor="middle">10<tspan font-size="12.88" dy="-7.08">7</tspan></text>
<rect x="103.6" y="149.5" width="643.60" height="313.80" fill="none" stroke="#000" stroke-width="1.05"/>
<rect x="103.6" y="463.3" width="643.60" height="313.30" fill="none" stroke="#000" stroke-width="1.05"/>
<rect x="103.6" y="776.6" width="643.60" height="313.70" fill="none" stroke="#000" stroke-width="1.05"/>
<text x="425.40" y="1135.2" text-anchor="middle"><tspan font-style="italic">E</tspan>, GeV</text>
<text transform="translate(42.3,933.55) rotate(-90) scale(1.008,1)" text-anchor="middle"><tspan font-style="italic">E</tspan><tspan font-size="12.88" dx="1.3" dy="-7.08">2</tspan><tspan font-style="italic" dy="7.08">dN</tspan>/<tspan font-style="italic">dE</tspan>, GeV/(cm<tspan font-size="12.88" dy="-7.08">2</tspan><tspan dy="7.08"> s)</tspan></text>
<rect x="488.60" y="161.10" width="252.70" height="118.10" rx="3.6" fill="#4d4d4d" fill-opacity="0.5"/>
<rect x="485.90" y="158.40" width="252.70" height="118.10" rx="3.6" fill="#fff" stroke="#d2d2d2" stroke-width="1.1"/>
<line x1="493.20" y1="177.20" x2="530.60" y2="177.20" stroke="#808080" stroke-width="4.7" stroke-dasharray="4.7 7.5"/>
<line x1="502.30" y1="204.80" x2="520.90" y2="204.80" stroke="#000" stroke-width="9.15" />
<line x1="511.60" y1="195.50" x2="511.60" y2="214.10" stroke="#000" stroke-width="9.15" />
<line x1="502.30" y1="232.00" x2="520.90" y2="232.00" stroke="#0000ff" stroke-width="9.15" />
<line x1="511.60" y1="222.70" x2="511.60" y2="241.30" stroke="#0000ff" stroke-width="9.15" />
<line x1="502.30" y1="259.00" x2="520.90" y2="259.00" stroke="#0000ff" stroke-width="4.7" />
<line x1="511.60" y1="249.70" x2="511.60" y2="268.30" stroke="#0000ff" stroke-width="4.7" />
<text x="544.61" y="183.00" textLength="33.86" lengthAdjust="spacingAndGlyphs">LAT</text>
<text x="585.01" y="183.00" font-style="italic">π</text>
<text x="597.73" y="176.80" font-size="12.88">0</text>
<text x="611.29" y="183.00" textLength="119.76" lengthAdjust="spacingAndGlyphs">decay model</text>
<text x="544.81" y="211.20" textLength="157.85" lengthAdjust="spacingAndGlyphs">Fermi/LAT all sky</text>
<text x="544.84" y="238.50" textLength="177.67" lengthAdjust="spacingAndGlyphs">IceCube HESE, 6 yr</text>
<text x="544.84" y="265.70" textLength="177.67" lengthAdjust="spacingAndGlyphs">IceCube HESE, 4 yr</text>
<rect x="440.20" y="475.20" width="301.10" height="149.50" rx="3.6" fill="#4d4d4d" fill-opacity="0.5"/>
<rect x="437.50" y="472.50" width="301.10" height="149.50" rx="3.6" fill="#fff" stroke="#d2d2d2" stroke-width="1.1"/>
<line x1="444.60" y1="487.40" x2="481.80" y2="487.40" stroke="#008000" stroke-width="4.7" stroke-linecap="square"/>
<line x1="444.60" y1="514.70" x2="481.80" y2="514.70" stroke="#0000ff" stroke-width="4.7" stroke-linecap="square"/>
<line x1="444.70" y1="543.70" x2="474.70" y2="543.70" stroke="#0000ff" stroke-width="4.7" stroke-opacity="0.5"/>
<line x1="444.70" y1="574.80" x2="481.90" y2="574.80" stroke="#808080" stroke-width="4.7" stroke-dasharray="4.7 7.5"/>
<line x1="454.10" y1="603.80" x2="472.70" y2="603.80" stroke="#000" stroke-width="9.15" />
<line x1="463.40" y1="594.50" x2="463.40" y2="613.10" stroke="#000" stroke-width="9.15" />
<text x="496.54" y="494.00" textLength="86.73" lengthAdjust="spacingAndGlyphs">ANTARES</text>
<text x="496.23" y="521.00" textLength="75.28" lengthAdjust="spacingAndGlyphs">IceCube</text>
<text x="496.23" y="549.30" textLength="75.28" lengthAdjust="spacingAndGlyphs">IceCube</text>
<text x="576.72" y="549.30" font-style="italic">π</text>
<text x="591.37" y="541.40" font-size="12.88">±</text>
<text x="610.79" y="549.30" textLength="120.06" lengthAdjust="spacingAndGlyphs">decay model</text>
<text x="495.71" y="580.70" textLength="33.86" lengthAdjust="spacingAndGlyphs">LAT</text>
<text x="536.11" y="580.70" font-style="italic">π</text>
<text x="548.83" y="574.50" font-size="12.88">0</text>
<text x="563.19" y="580.70" textLength="119.76" lengthAdjust="spacingAndGlyphs">decay model</text>
<text x="496.18" y="609.00" textLength="99.93" lengthAdjust="spacingAndGlyphs">Fermi/LAT,</text>
<text x="601.55" y="609.00">|</text>
<text x="606.84" y="609.00" font-style="italic">b</text>
<text x="619.05" y="609.00">|</text>
<text x="628.27" y="609.00">&lt;</text>
<text x="647.99" y="609.00" textLength="23.58" lengthAdjust="spacingAndGlyphs">10</text>
<text x="674.15" y="601.70" font-size="13.62">∘</text>
<rect x="485.10" y="788.60" width="256.20" height="88.60" rx="3.6" fill="#4d4d4d" fill-opacity="0.5"/>
<rect x="482.40" y="785.90" width="256.20" height="88.60" rx="3.6" fill="#fff" stroke="#d2d2d2" stroke-width="1.1"/>
<line x1="499.10" y1="801.70" x2="517.70" y2="801.70" stroke="#000" stroke-width="9.15" />
<line x1="508.40" y1="792.40" x2="508.40" y2="811.00" stroke="#000" stroke-width="9.15" />
<line x1="499.10" y1="829.60" x2="517.70" y2="829.60" stroke="#0000ff" stroke-width="9.15" />
<line x1="508.40" y1="820.30" x2="508.40" y2="838.90" stroke="#0000ff" stroke-width="9.15" />
<line x1="499.10" y1="857.00" x2="517.70" y2="857.00" stroke="#0000ff" stroke-width="4.7" />
<line x1="508.40" y1="847.70" x2="508.40" y2="866.30" stroke="#0000ff" stroke-width="4.7" />
<text x="541.18" y="807.40" textLength="99.93" lengthAdjust="spacingAndGlyphs">Fermi/LAT,</text>
<text x="646.55" y="807.40">|</text>
<text x="651.84" y="807.40" font-style="italic">b</text>
<text x="664.05" y="807.40">|</text>
<text x="673.27" y="807.40">&gt;</text>
<text x="692.99" y="807.40" textLength="23.58" lengthAdjust="spacingAndGlyphs">10</text>
<text x="719.15" y="800.10" font-size="13.62">∘</text>
<text x="541.24" y="835.80" textLength="177.67" lengthAdjust="spacingAndGlyphs">IceCube HESE, 6 yr</text>
<text x="541.24" y="863.10" textLength="177.67" lengthAdjust="spacingAndGlyphs">IceCube HESE, 4 yr</text>
<line x1="103.80" y1="686.40" x2="566.00" y2="689.20" stroke="#0a32ff" stroke-width="1.3" />
<line x1="91.60" y1="960.35" x2="612.60" y2="960.35" stroke="#0a32ff" stroke-width="1.3" />
<line x1="563.50" y1="591.80" x2="563.50" y2="1090.30" stroke="#0a32ff" stroke-width="1.3" />
</svg>
</body></html>
